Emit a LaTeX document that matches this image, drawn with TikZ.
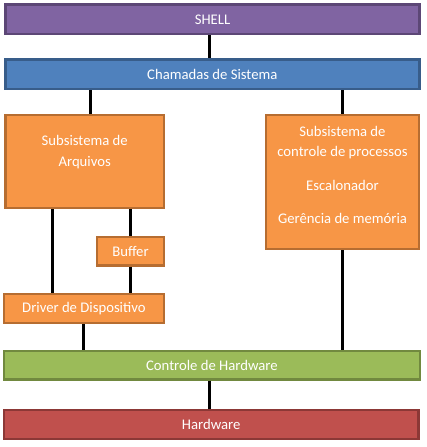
\documentclass[tikz,border=0pt]{standalone}
\usepackage{fontspec}
\setmainfont{Carlito}
\usepackage{xcolor}
\definecolor{shellfill}{HTML}{8064A2}
\definecolor{shelldraw}{HTML}{5C4776}
\definecolor{chamfill}{HTML}{4F81BD}
\definecolor{chamdraw}{HTML}{385D8A}
\definecolor{subfill}{HTML}{F79646}
\definecolor{subdraw}{HTML}{B66D31}
\definecolor{ctrlfill}{HTML}{9BBB59}
\definecolor{ctrldraw}{HTML}{71893F}
\definecolor{hwfill}{HTML}{C0504D}
\definecolor{hwdraw}{HTML}{8C3836}

\begin{document}
\begin{tikzpicture}[x=1pt, y=-1pt,
    blk/.style={draw, rectangle, line width=2.4pt, text=white, align=center, inner sep=0pt,
        font=\fontsize{14.7}{20.7}\selectfont},
    link/.style={line width=3pt, black}]
            \useasboundingbox (0,0) rectangle (427,447);
            % layers of the kernel
            \node[blk, fill=shellfill, draw=shelldraw, minimum width=414pt, minimum height=29.5pt] (shell) at (212.5,19.3) {SHELL};
            \node[blk, fill=chamfill, draw=chamdraw, minimum width=414pt, minimum height=29.3pt] (cham) at (212.3,74.2) {Chamadas de Sistema};
            \node[blk, fill=subfill, draw=subdraw, minimum width=158.3pt, minimum height=92.6pt] (arq) at (84.7,161.5) {Subsistema de\\Arquivos\\~};
            \node[blk, fill=subfill, draw=subdraw, minimum width=152.6pt, minimum height=133.6pt] (proc) at (342.5,182) {Subsistema de\\controle de processos\\[13pt]Escalonador\\[12pt]Gerência de memória\\[-6pt]~};
            \node[blk, fill=subfill, draw=subdraw, minimum width=66.6pt, minimum height=28.3pt] (buf) at (130.5,251.3) {Buffer};
            \node[blk, fill=subfill, draw=subdraw, minimum width=160pt, minimum height=28.9pt] (drv) at (83.9,308.3) {Driver de Dispositivo};
            \node[blk, fill=ctrlfill, draw=ctrldraw, minimum width=416pt, minimum height=28.3pt] (hwc) at (211.9,365.3) {Controle de Hardware};
            \node[blk, fill=hwfill, draw=hwdraw, minimum width=414.6pt, minimum height=28.6pt] (hw) at (211.2,424.5) {Hardware};

            % connections
            \draw[link] ([xshift=-3.5pt]shell.south) -- ([xshift=-3.5pt]shell.south |- cham.north);
            \draw[link] ([xshift=5.3pt]arq.north |- cham.south) -- ([xshift=5.3pt]arq.north);
            \draw[link] (proc.north |- cham.south) -- (proc.north);
            \draw[link] ([xshift=-32.7pt]arq.south) -- ([xshift=-32.7pt]arq.south |- drv.north);
            \draw[link] (buf.north |- arq.south) -- (buf.north);
            \draw[link] (buf.south) -- (buf.south |- drv.north);
            \draw[link] ([xshift=-0.9pt]drv.south) -- ([xshift=-0.9pt]drv.south |- hwc.north);
            \draw[link] (proc.south) -- (proc.south |- hwc.north);
            \draw[link] ([xshift=-2.9pt]hwc.south) -- ([xshift=-2.9pt]hwc.south |- hw.north);
        \end{tikzpicture}
\end{document}
